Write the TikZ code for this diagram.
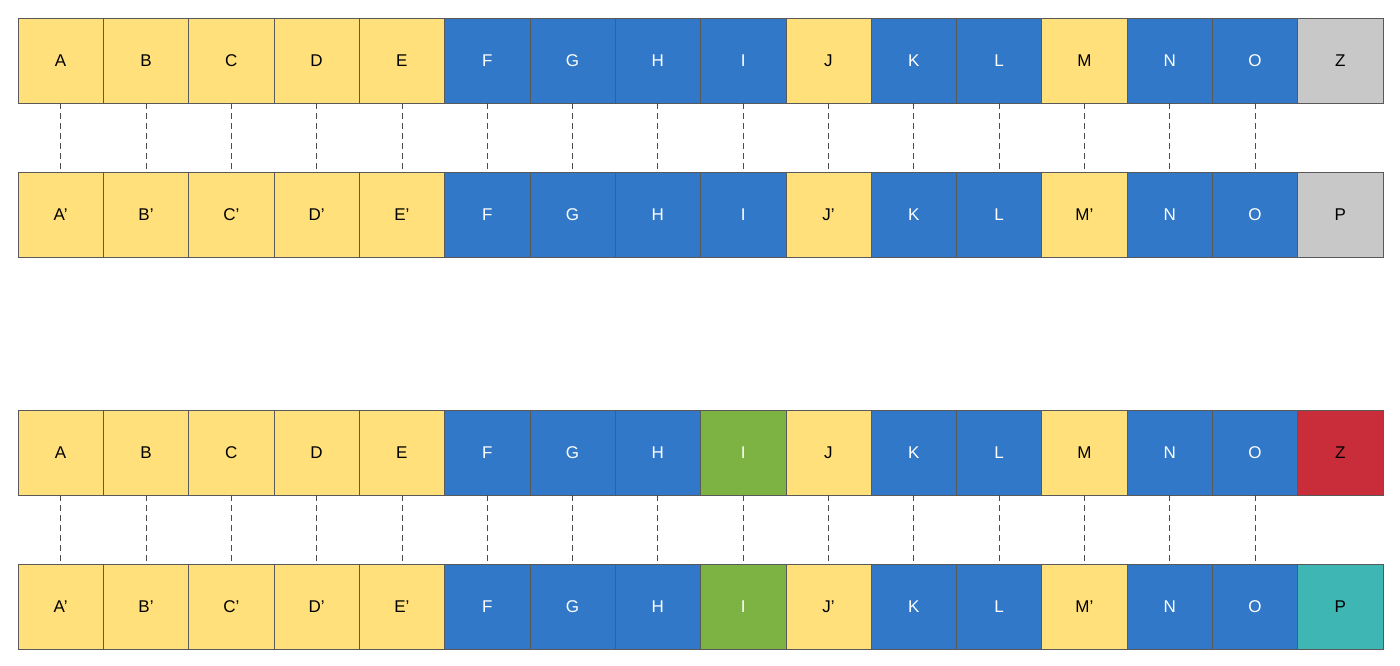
\documentclass[tikz,border=0pt]{standalone}
\usepackage{fontspec}
\setmainfont{Liberation Sans}
\definecolor{cy}{HTML}{FFE07A}
\definecolor{cb}{HTML}{3178C8}
\definecolor{cg}{HTML}{C8C8C8}
\definecolor{cgr}{HTML}{7CB342}
\definecolor{cr}{HTML}{C92D39}
\definecolor{ct}{HTML}{3DB6B4}
\tikzset{cell/.style={draw=black!65,line width=0.6pt,minimum width=85.3pt,minimum height=85pt,inner sep=0pt,font=\fontsize{17}{20}\selectfont},
 link/.style={dashed,draw=black!70,line width=0.8pt,dash pattern=on 6pt off 4pt}}
\begin{document}
\begin{tikzpicture}[x=1pt,y=-1pt]
\useasboundingbox (0,0) rectangle (1400,666);
\def\row#1#2#3{%
\foreach \t/\c/\tc [count=\i from 0] in {#3}{
 \node[cell,fill=\c,text=\tc] (#1\i) at ({18+85.3125*(\i+0.5)},#2) {\t};}}
\row{a}{60.5}{A/cy/black,B/cy/black,C/cy/black,D/cy/black,E/cy/black,F/cb/white,G/cb/white,H/cb/white,I/cb/white,J/cy/black,K/cb/white,L/cb/white,M/cy/black,N/cb/white,O/cb/white,Z/cg/black}
\row{b}{214.5}{A'/cy/black,B'/cy/black,C'/cy/black,D'/cy/black,E'/cy/black,F/cb/white,G/cb/white,H/cb/white,I/cb/white,J'/cy/black,K/cb/white,L/cb/white,M'/cy/black,N/cb/white,O/cb/white,P/cg/black}
\row{c}{452.5}{A/cy/black,B/cy/black,C/cy/black,D/cy/black,E/cy/black,F/cb/white,G/cb/white,H/cb/white,I/cgr/white,J/cy/black,K/cb/white,L/cb/white,M/cy/black,N/cb/white,O/cb/white,Z/cr/black}
\row{d}{606.5}{A'/cy/black,B'/cy/black,C'/cy/black,D'/cy/black,E'/cy/black,F/cb/white,G/cb/white,H/cb/white,I/cgr/white,J'/cy/black,K/cb/white,L/cb/white,M'/cy/black,N/cb/white,O/cb/white,P/ct/black}
\foreach \i in {0,...,14}{
 \draw[link] (a\i.south) -- (b\i.north);
 \draw[link] (c\i.south) -- (d\i.north);}
\end{tikzpicture}
\end{document}
